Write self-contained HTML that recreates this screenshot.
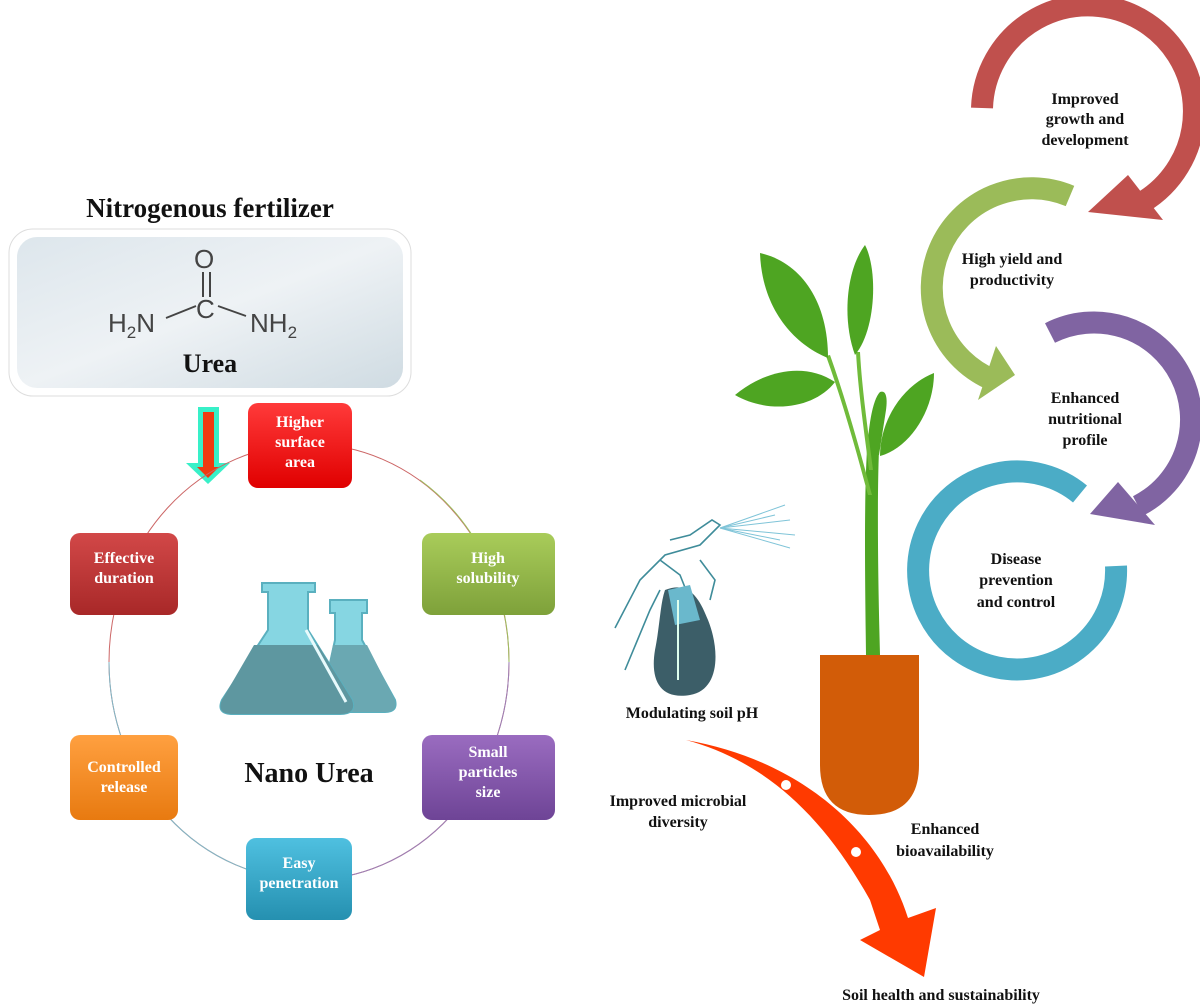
<!DOCTYPE html>
<html><head><meta charset="utf-8"><style>
body{margin:0;background:#fff;}
svg{display:block;}
text{font-family:"Liberation Serif",serif;font-weight:bold;}
.m{font-family:"Liberation Sans",sans-serif;font-weight:normal;fill:#444;}
</style></head><body>
<svg width="1200" height="1006" viewBox="0 0 1200 1006" xmlns="http://www.w3.org/2000/svg">
<defs>
<linearGradient id="gr" x1="0" y1="0" x2="0" y2="1"><stop offset="0" stop-color="#ff3a3a"/><stop offset="1" stop-color="#e00000"/></linearGradient>
<linearGradient id="gg" x1="0" y1="0" x2="0" y2="1"><stop offset="0" stop-color="#a9cc5a"/><stop offset="1" stop-color="#7ea13a"/></linearGradient>
<linearGradient id="gp" x1="0" y1="0" x2="0" y2="1"><stop offset="0" stop-color="#9a6cc0"/><stop offset="1" stop-color="#6e4496"/></linearGradient>
<linearGradient id="gb" x1="0" y1="0" x2="0" y2="1"><stop offset="0" stop-color="#4fc0e0"/><stop offset="1" stop-color="#2590b0"/></linearGradient>
<linearGradient id="go" x1="0" y1="0" x2="0" y2="1"><stop offset="0" stop-color="#ffa040"/><stop offset="1" stop-color="#e87a10"/></linearGradient>
<linearGradient id="gd" x1="0" y1="0" x2="0" y2="1"><stop offset="0" stop-color="#d24848"/><stop offset="1" stop-color="#a82828"/></linearGradient>
<linearGradient id="gu" x1="0" y1="0" x2="1" y2="1"><stop offset="0" stop-color="#dde6ec"/><stop offset="0.5" stop-color="#eef2f5"/><stop offset="1" stop-color="#cfdbe2"/></linearGradient>
</defs>

<!-- Title and urea box -->
<text x="210" y="217" font-size="27" text-anchor="middle" fill="#111">Nitrogenous fertilizer</text>
<rect x="9" y="229" width="402" height="167" rx="24" fill="#fff" stroke="#ddd" stroke-width="1"/>
<rect x="17" y="237" width="386" height="151" rx="20" fill="url(#gu)"/>
<text class="m" x="194" y="268" font-size="26">O</text>
<text class="m" x="196" y="318" font-size="26">C</text>
<text class="m" x="108" y="332" font-size="26">H<tspan font-size="17" dy="6">2</tspan><tspan dy="-6">N</tspan></text>
<text class="m" x="250" y="332" font-size="26">NH<tspan font-size="17" dy="6">2</tspan></text>
<line x1="203" y1="272" x2="203" y2="297" stroke="#444" stroke-width="2"/>
<line x1="210" y1="272" x2="210" y2="297" stroke="#444" stroke-width="2"/>
<line x1="166" y1="318" x2="196" y2="306" stroke="#444" stroke-width="1.8"/>
<line x1="218" y1="306" x2="246" y2="316" stroke="#444" stroke-width="1.8"/>
<text x="210" y="372" font-size="26" text-anchor="middle" fill="#111">Urea</text>

<!-- down arrow -->
<path d="M198,407 H219 V463 H230 L208,484 L186,463 H198 Z" fill="#38f0c8"/>
<path d="M203,412 H214 V467 H219 L208,478 L197,467 H203 Z" fill="#f03a10"/>

<!-- circle -->
<ellipse cx="309" cy="662" rx="200" ry="218" fill="none" stroke="#cc6666" stroke-width="1"/>
<path d="M109,662 A200,218 0 0 0 309,880" fill="none" stroke="#7fb8c8" stroke-width="1"/>
<path d="M309,880 A200,218 0 0 0 509,662" fill="none" stroke="#9b80b8" stroke-width="1"/>
<path d="M509,662 A200,218 0 0 0 420,480" fill="none" stroke="#9cc060" stroke-width="1"/>

<!-- boxes -->
<g font-size="16" fill="#fff" text-anchor="middle">
<rect x="248" y="403" width="104" height="85" rx="10" fill="url(#gr)"/>
<text x="300" y="427">Higher</text><text x="300" y="447">surface</text><text x="300" y="467">area</text>
<rect x="422" y="533" width="133" height="82" rx="10" fill="url(#gg)"/>
<text x="488" y="563">High</text><text x="488" y="583">solubility</text>
<rect x="422" y="735" width="133" height="85" rx="10" fill="url(#gp)"/>
<text x="488" y="757">Small</text><text x="488" y="777">particles</text><text x="488" y="797">size</text>
<rect x="246" y="838" width="106" height="82" rx="10" fill="url(#gb)"/>
<text x="299" y="868">Easy</text><text x="299" y="888">penetration</text>
<rect x="70" y="735" width="108" height="85" rx="10" fill="url(#go)"/>
<text x="124" y="772">Controlled</text><text x="124" y="792">release</text>
<rect x="70" y="533" width="108" height="82" rx="10" fill="url(#gd)"/>
<text x="124" y="563">Effective</text><text x="124" y="583">duration</text>
</g>

<!-- flasks -->
<g>
<path d="M330,600 H367 V613 H362 V640 L395,700 Q398,712 385,712 H330 Q318,712 322,700 L335,640 V613 H330 Z" fill="#86d6e2" stroke="#5ab0bf" stroke-width="2"/>
<path d="M333,645 H367 L395,700 Q398,712 385,712 H330 Q318,712 322,700 Z" fill="#6aa8b2"/>
<path d="M262,583 H315 V592 H308 V630 L352,700 Q357,714 340,714 H233 Q216,714 222,700 L268,630 V592 H262 Z" fill="#86d6e2" stroke="#5ab0bf" stroke-width="2"/>
<path d="M254,645 H318 L352,700 Q357,714 340,714 H233 Q216,714 222,700 Z" fill="#5e97a0"/>
<path d="M306,630 L346,702" stroke="#e8fafc" stroke-width="3" fill="none"/>
</g>
<text x="309" y="782" font-size="28" text-anchor="middle" fill="#111">Nano Urea</text>

<!-- plant -->
<g fill="#4ea522">
<path d="M866,655 C865,580 864,500 867,450 L879,450 C877,500 878,580 880,655 Z"/>
<path d="M867,455 C868,430 872,400 880,392 C885,390 888,395 886,410 L879,455 Z"/>
<path d="M868,495 C856,450 842,400 826,356 L830,355 C846,400 860,450 872,495 Z" fill="#70bb3a"/>
<path d="M869,470 C864,430 858,390 856,352 L860,352 C862,390 868,430 873,470 Z" fill="#70bb3a"/>
<path d="M760,253 C800,262 828,300 828,358 C795,345 762,310 760,253 Z"/>
<path d="M865,245 C878,270 876,330 855,355 C842,320 846,270 865,245 Z"/>
<path d="M735,395 C765,370 805,362 835,382 C815,408 770,415 735,395 Z"/>
<path d="M934,373 C934,410 910,448 880,456 C880,420 903,385 934,373 Z"/>
</g>
<path d="M820,655 H919 V765 Q919,815 869,815 Q820,815 820,765 Z" fill="#d25c08"/>

<!-- spray bottle -->
<g fill="none" stroke="#3f8c9a" stroke-width="1.6">
<path d="M615,628 L640,580 L665,555 L700,545 L720,525 L712,520 L690,535 L670,540"/>
<path d="M625,670 L650,610 L660,590"/>
<path d="M660,560 L680,575 L690,600 L700,610"/>
<path d="M700,560 L715,580 L710,600"/>
</g>
<path d="M665,590 C690,580 700,600 708,620 C720,650 720,690 690,695 C660,700 650,680 655,650 C660,625 660,605 665,590 Z" fill="#3c5e68"/>
<path d="M668,590 L690,585 L700,620 L675,625 Z" fill="#6ab8cc"/>
<line x1="678" y1="600" x2="678" y2="680" stroke="#dfe" stroke-width="2"/>
<g stroke="#7fc4d8" stroke-width="1">
<line x1="720" y1="528" x2="790" y2="520"/><line x1="720" y1="528" x2="795" y2="535"/><line x1="720" y1="528" x2="785" y2="505"/><line x1="720" y1="528" x2="790" y2="548"/><line x1="720" y1="528" x2="775" y2="515"/><line x1="720" y1="528" x2="780" y2="540"/>
</g>

<!-- cycle arrows -->
<g fill="none" stroke-width="22">
<path d="M982,108 A106,106 0 1 1 1143,202" stroke="#c0504d"/>
<path d="M1070,196 A96,96 0 1 0 993,380" stroke="#9bbb59"/>
<path d="M1050,333 A97,97 0 1 1 1138,506" stroke="#8064a2"/>
<path d="M1080,494 A99,99 0 1 0 1116,566" stroke="#4bacc6"/>
</g>
<polygon points="1163,220 1128,175 1088,212" fill="#c0504d"/>
<polygon points="978,400 996,346 1015,375" fill="#9bbb59"/>
<polygon points="1155,525 1118,482 1090,514" fill="#8064a2"/>

<g font-size="16" text-anchor="middle" fill="#111">
<text x="1085" y="104">Improved</text><text x="1085" y="124">growth and</text><text x="1085" y="145">development</text>
<text x="1012" y="264">High yield and</text><text x="1012" y="285">productivity</text>
<text x="1085" y="403">Enhanced</text><text x="1085" y="424">nutritional</text><text x="1085" y="445">profile</text>
<text x="1016" y="564">Disease</text><text x="1016" y="585">prevention</text><text x="1016" y="607">and control</text>
<text x="692" y="718">Modulating soil pH</text>
<text x="678" y="806">Improved microbial</text><text x="678" y="827">diversity</text>
<text x="945" y="834">Enhanced</text><text x="945" y="856">bioavailability</text>
<text x="941" y="1000">Soil health and sustainability</text>
</g>

<!-- red curved arrow -->
<path d="M686,740 C760,760 820,810 870,900 L880,930 L860,940 L924,977 L936,908 L908,918 C880,830 800,760 686,740 Z" fill="#ff3a00"/>
<circle cx="786" cy="785" r="5" fill="#fff"/>
<circle cx="856" cy="852" r="5" fill="#fff"/>
</svg>
</body></html>
